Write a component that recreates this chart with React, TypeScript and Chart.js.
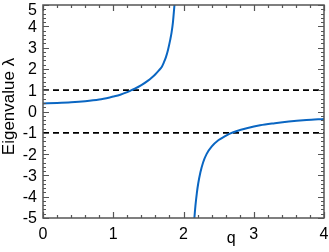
import React, { useEffect, useRef } from "react";
import { Chart, registerables } from "chart.js";

Chart.register(...registerables);

const qLeft = [0, 0.2, 0.4, 0.6, 0.8, 0.95, 1.0, 1.1, 1.2, 1.26, 1.3, 1.4, 1.5, 1.55, 1.6, 1.65, 1.69, 1.72, 1.75, 1.78, 1.81, 1.83, 1.85, 1.87, 1.885];
const lamLeft = [0.38, 0.4, 0.43, 0.48, 0.56, 0.66, 0.7, 0.79, 0.91, 1.0, 1.06, 1.24, 1.46, 1.6, 1.75, 1.93, 2.09, 2.3, 2.55, 2.9, 3.35, 3.7, 4.2, 4.95, 5.5];
const qRight = [2.14, 2.155, 2.17, 2.19, 2.21, 2.24, 2.28, 2.33, 2.4, 2.5, 2.6, 2.66, 2.75, 2.9, 3.09, 3.3, 3.5, 3.75, 4.0];
const lamRight = [-5.7, -5.0, -4.42, -3.83, -3.37, -2.86, -2.38, -1.99, -1.65, -1.34, -1.14, -1.04, -0.93, -0.79, -0.65, -0.55, -0.47, -0.4, -0.35];
const refLevels = [1, -1];
const xTicks = [0, 1, 2, 3, 4];
const yTicks = [5, 4, 3, 2, 1, 0, -1, -2, -3, -4, -5];
const xTitle = "q";
const yTitle = "Eigenvalue λ";

const FONT = "16px 'Liberation Sans', Arial, sans-serif";

const framePlugin = {
  id: "frame",
  afterDraw(chart: any) {
    const { ctx, chartArea: a, scales } = chart;
    const xs = scales.x;
    const ys = scales.y;
    ctx.save();
    ctx.strokeStyle = "#555";
    ctx.lineWidth = 1.2;
    ctx.beginPath();
    for (let i = 0; i <= 20; i++) {
      const v = i * 0.2;
      const px = Math.round(xs.getPixelForValue(v)) + 0.5;
      const len = i % 5 === 0 ? 6 : 3;
      ctx.moveTo(px, a.bottom);
      ctx.lineTo(px, a.bottom - len);
      ctx.moveTo(px, a.top);
      ctx.lineTo(px, a.top + len);
    }
    for (let i = 0; i <= 50; i++) {
      const v = -5 + i * 0.2;
      const py = Math.round(ys.getPixelForValue(v)) + 0.5;
      const len = i % 5 === 0 ? 6 : 3;
      ctx.moveTo(a.left, py);
      ctx.lineTo(a.left + len, py);
      ctx.moveTo(a.right, py);
      ctx.lineTo(a.right - len, py);
    }
    ctx.stroke();
    ctx.lineWidth = 1.5;
    ctx.strokeRect(a.left, a.top, a.right - a.left, a.bottom - a.top);
    ctx.fillStyle = "#000";
    ctx.font = FONT;
    ctx.textAlign = "right";
    ctx.textBaseline = "middle";
    yTicks.forEach((v) => {
      const py = ys.getPixelForValue(v);
      const y = Math.min(Math.max(py + 1, 11), 220);
      ctx.fillText(String(v), a.left - 6, y);
    });
    ctx.textAlign = "center";
    ctx.textBaseline = "alphabetic";
    xTicks.forEach((v) => {
      ctx.fillText(String(v), xs.getPixelForValue(v), a.bottom + 21);
    });
    ctx.fillText(xTitle, a.left + 0.67 * (a.right - a.left), a.bottom + 25);
    ctx.save();
    ctx.translate(14, (a.top + a.bottom) / 2 - 5);
    ctx.rotate(-Math.PI / 2);
    ctx.textAlign = "center";
    ctx.font = "17px 'Liberation Sans', Arial, sans-serif";
    ctx.fillText(yTitle, 0, 0);
    ctx.restore();
    ctx.restore();
  },
};

export default function App() {
  const ref = useRef<HTMLCanvasElement>(null);
  useEffect(() => {
    document.body.style.margin = "0";
    const blue = "#0a66c2";
    const chart = new Chart(ref.current as HTMLCanvasElement, {
      type: "scatter",
      data: {
        datasets: [
          {
            data: qLeft.map((q, i) => ({ x: q, y: lamLeft[i] })),
            showLine: true,
            borderColor: blue,
            borderWidth: 2,
            pointRadius: 0,
            cubicInterpolationMode: "monotone",
          },
          {
            data: qRight.map((q, i) => ({ x: q, y: lamRight[i] })),
            showLine: true,
            borderColor: blue,
            borderWidth: 2,
            pointRadius: 0,
            cubicInterpolationMode: "monotone",
          },
          ...refLevels.map((lv) => ({
            data: [
              { x: 0, y: lv },
              { x: 4, y: lv },
            ],
            showLine: true,
            borderColor: "#000",
            borderWidth: 1.8,
            borderDash: [6, 4],
            pointRadius: 0,
          })),
        ],
      } as any,
      options: {
        animation: false,
        responsive: false,
        layout: { padding: { left: 43, right: 5, top: 5, bottom: 34 } },
        plugins: { legend: { display: false }, tooltip: { enabled: false } },
        scales: {
          x: { type: "linear", min: 0, max: 4, display: false },
          y: { type: "linear", min: -5, max: 5, display: false },
        },
      },
      plugins: [framePlugin],
    });
    return () => chart.destroy();
  }, []);
  return <canvas ref={ref} width={329} height={252} style={{ display: "block" }} />;
}
